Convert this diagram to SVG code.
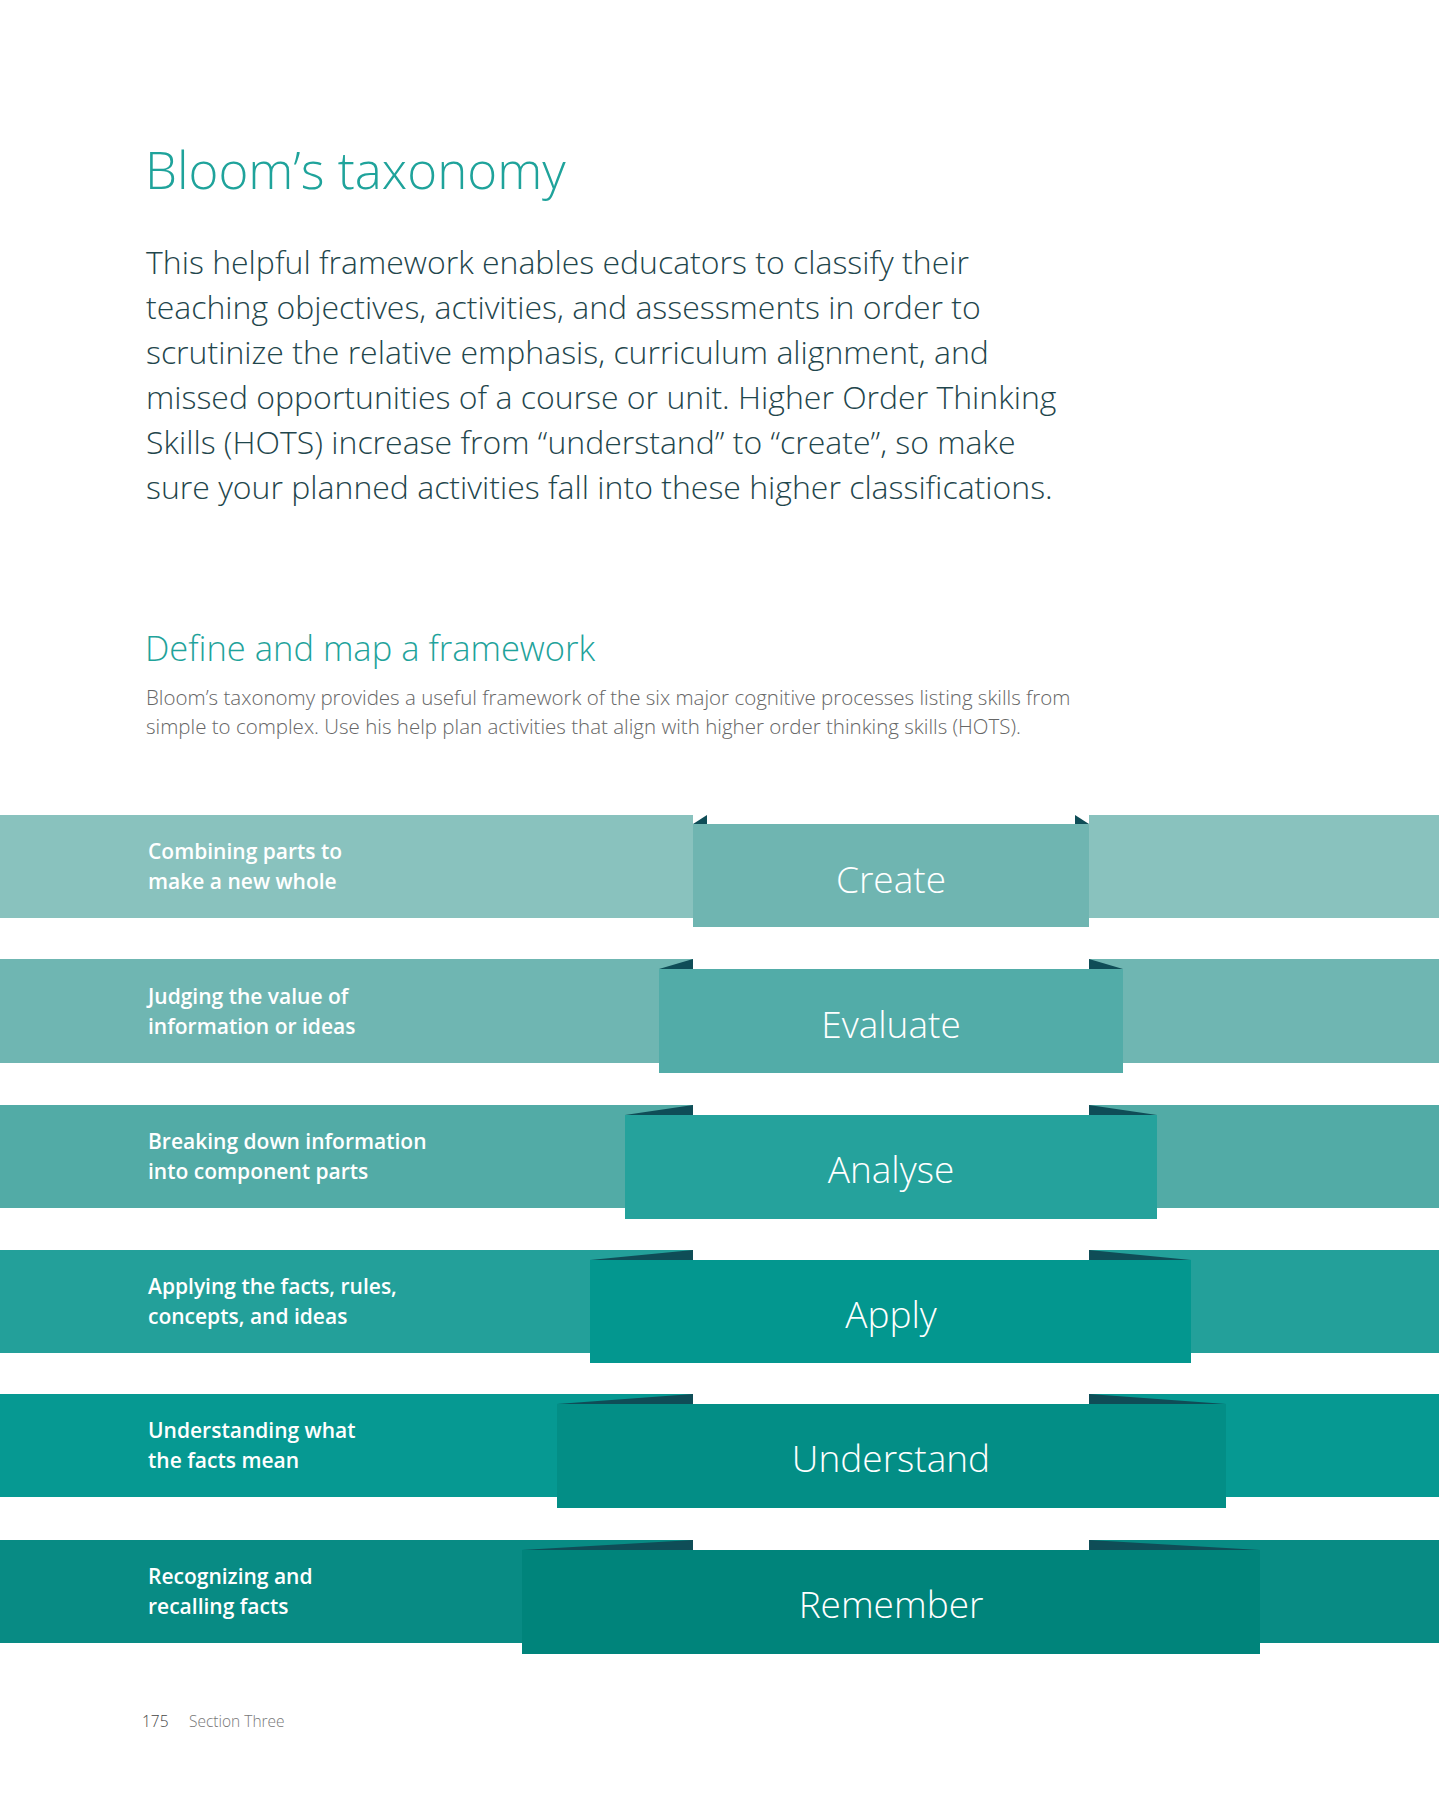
<svg xmlns="http://www.w3.org/2000/svg" width="1439" height="1800" viewBox="0 0 1439 1800">
<style>
.title{font-family:"Open Sans","Noto Sans",sans-serif;font-weight:300;fill:#1fa39b}
.body{font-family:"Open Sans","Noto Sans",sans-serif;font-weight:300;font-size:32px;fill:#1f464c}
.sub{font-family:"Open Sans","Noto Sans",sans-serif;font-weight:300;font-size:20.5px;fill:#666666}
.lbl{font-family:"Open Sans","Noto Sans",sans-serif;font-weight:600;font-size:21px;fill:#ffffff}
.pl{font-family:"Open Sans","Noto Sans",sans-serif;font-weight:300;font-size:37px;fill:#ffffff;text-anchor:middle}
.fold{fill:#0f4d57}
.foot{font-family:"Open Sans","Noto Sans",sans-serif;font-weight:300;font-size:15.5px}
</style>
<rect width="1439" height="1800" fill="#ffffff"/>
<text class="title" x="145" y="189" font-size="51">Bloom’s taxonomy</text>
<g class="body">
<text x="146" y="274">This helpful framework enables educators to classify their</text>
<text x="146" y="319">teaching objectives, activities, and assessments in order to</text>
<text x="146" y="364">scrutinize the relative emphasis, curriculum alignment, and</text>
<text x="146" y="409">missed opportunities of a course or unit. Higher Order Thinking</text>
<text x="146" y="454">Skills (HOTS) increase from “understand” to “create”, so make</text>
<text x="146" y="499">sure your planned activities fall into these higher classifications.</text>
</g>
<text class="title" x="145" y="661" font-size="34.5">Define and map a framework</text>
<g class="sub">
<text x="146" y="705">Bloom’s taxonomy provides a useful framework of the six major cognitive processes listing skills from</text>
<text x="146" y="734">simple to complex. Use his help plan activities that align with higher order thinking skills (HOTS).</text>
</g>

<g id="create">
<rect x="0" y="815" width="693" height="103" fill="#89c2be"/>
<rect x="1089" y="815" width="350" height="103" fill="#89c2be"/>
<polygon class="fold" points="693,824 707,815 707,824"/>
<polygon class="fold" points="1075,815 1089,824 1075,824"/>
<rect x="693" y="824" width="396" height="103" fill="#6fb5b1"/>
<text class="lbl" x="148" y="859">Combining parts to</text>
<text class="lbl" x="148" y="889">make a new whole</text>
<text class="pl" x="891" y="893">Create</text>
</g>

<g id="evaluate">
<rect x="0" y="959" width="693" height="104" fill="#6fb6b2"/>
<rect x="1089" y="959" width="350" height="104" fill="#6fb6b2"/>
<polygon class="fold" points="659,969 693,959 693,969"/>
<polygon class="fold" points="1089,959 1123,969 1089,969"/>
<rect x="659" y="969" width="464" height="104" fill="#52aca8"/>
<text class="lbl" x="148" y="1004">Judging the value of</text>
<text class="lbl" x="148" y="1034">information or ideas</text>
<text class="pl" x="891" y="1038">Evaluate</text>
</g>

<g id="analyse">
<rect x="0" y="1105" width="693" height="103" fill="#52aba6"/>
<rect x="1089" y="1105" width="350" height="103" fill="#52aba6"/>
<polygon class="fold" points="625,1115 693,1105 693,1115"/>
<polygon class="fold" points="1089,1105 1157,1115 1089,1115"/>
<rect x="625" y="1115" width="532" height="104" fill="#25a29c"/>
<text class="lbl" x="148" y="1149">Breaking down information</text>
<text class="lbl" x="148" y="1179">into component parts</text>
<text class="pl" x="891" y="1183">Analyse</text>
</g>

<g id="apply">
<rect x="0" y="1250" width="693" height="103" fill="#23a09a"/>
<rect x="1089" y="1250" width="350" height="103" fill="#23a09a"/>
<polygon class="fold" points="590,1260 693,1250 693,1260"/>
<polygon class="fold" points="1089,1250 1191,1260 1089,1260"/>
<rect x="590" y="1260" width="601" height="103" fill="#03978f"/>
<text class="lbl" x="148" y="1294">Applying the facts, rules,</text>
<text class="lbl" x="148" y="1324">concepts, and ideas</text>
<text class="pl" x="891" y="1328">Apply</text>
</g>

<g id="understand">
<rect x="0" y="1394" width="693" height="103" fill="#069992"/>
<rect x="1089" y="1394" width="350" height="103" fill="#069992"/>
<polygon class="fold" points="557,1404 693,1394 693,1404"/>
<polygon class="fold" points="1089,1394 1226,1404 1089,1404"/>
<rect x="557" y="1404" width="669" height="104" fill="#038e86"/>
<text class="lbl" x="148" y="1438">Understanding what</text>
<text class="lbl" x="148" y="1468">the facts mean</text>
<text class="pl" x="891" y="1472">Understand</text>
</g>

<g id="remember">
<rect x="0" y="1540" width="693" height="103" fill="#088b84"/>
<rect x="1089" y="1540" width="350" height="103" fill="#088b84"/>
<polygon class="fold" points="522,1550 693,1540 693,1550"/>
<polygon class="fold" points="1089,1540 1260,1550 1089,1550"/>
<rect x="522" y="1550" width="738" height="104" fill="#00847b"/>
<text class="lbl" x="148" y="1584">Recognizing and</text>
<text class="lbl" x="148" y="1614">recalling facts</text>
<text class="pl" x="891" y="1618">Remember</text>
</g>

<g id="connectors"></g>

<text class="foot" x="142" y="1727" fill="#444444">175</text>
<text class="foot" x="189" y="1727" fill="#777777">Section Three</text>
</svg>
